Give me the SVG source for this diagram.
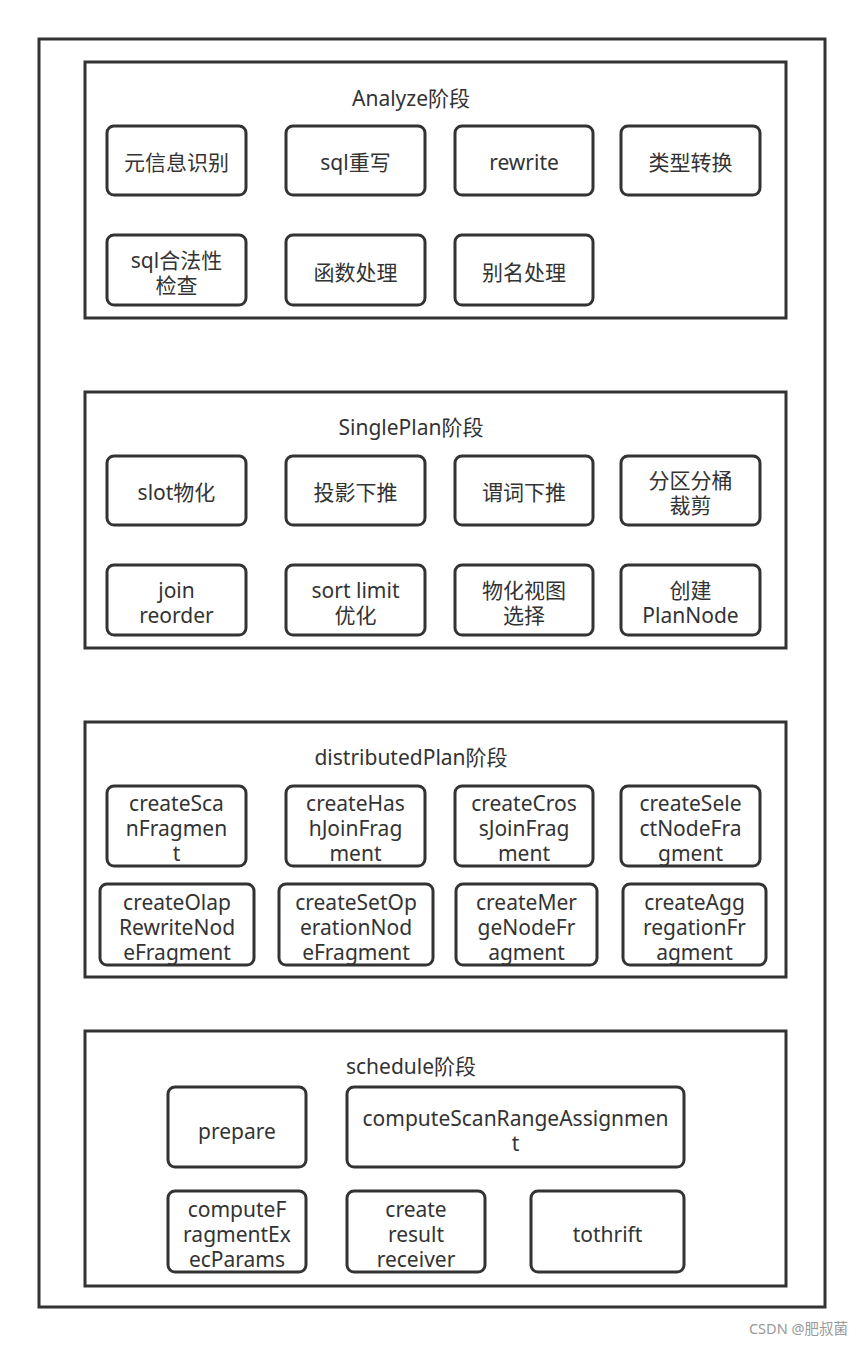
<svg xmlns="http://www.w3.org/2000/svg" width="864" height="1346" viewBox="0 0 864 1346">
<style>
.frame{fill:#fff;stroke:#333;stroke-width:3}
.sec{fill:#fff;stroke:#333;stroke-width:3}
.box{fill:#fff;stroke:#333;stroke-width:3}
text{font-family:"Noto Sans","Noto Sans CJK SC",sans-serif;font-size:21px;fill:#333;text-anchor:middle}
.wm{font-size:14.5px;fill:#999;text-anchor:end}
</style>
<rect width="864" height="1346" fill="#fff"/>
<rect class="frame" x="39" y="39" width="786" height="1268"/>
<g id="connectors"></g>

<g id="analyze">
<rect class="sec" x="85" y="62" width="701" height="256"/>
<text x="411" y="106">Analyze阶段</text>
</g>
<g id="a1"><rect class="box" x="107" y="126" width="139" height="69" rx="7"/><text x="176.5" y="170">元信息识别</text></g>
<g id="a2"><rect class="box" x="286" y="126" width="139" height="69" rx="7"/><text x="355.5" y="170">sql重写</text></g>
<g id="a3"><rect class="box" x="455" y="126" width="138" height="69" rx="7"/><text x="524" y="170">rewrite</text></g>
<g id="a4"><rect class="box" x="621" y="126" width="139" height="69" rx="7"/><text x="690.5" y="170">类型转换</text></g>
<g id="a5"><rect class="box" x="107" y="235" width="139" height="70" rx="7"/><text x="176.5" y="268">sql合法性</text><text x="176.5" y="293">检查</text></g>
<g id="a6"><rect class="box" x="286" y="235" width="139" height="70" rx="7"/><text x="355.5" y="280">函数处理</text></g>
<g id="a7"><rect class="box" x="455" y="235" width="138" height="70" rx="7"/><text x="524" y="280">别名处理</text></g>

<g id="singleplan">
<rect class="sec" x="85" y="392" width="701" height="256"/>
<text x="411" y="435">SinglePlan阶段</text>
</g>
<g id="s1"><rect class="box" x="107" y="456" width="139" height="69" rx="7"/><text x="176.5" y="500">slot物化</text></g>
<g id="s2"><rect class="box" x="286" y="456" width="139" height="69" rx="7"/><text x="355.5" y="500">投影下推</text></g>
<g id="s3"><rect class="box" x="455" y="456" width="138" height="69" rx="7"/><text x="524" y="500">谓词下推</text></g>
<g id="s4"><rect class="box" x="621" y="456" width="139" height="69" rx="7"/><text x="690.5" y="488">分区分桶</text><text x="690.5" y="513">裁剪</text></g>
<g id="s5"><rect class="box" x="107" y="565" width="139" height="70" rx="7"/><text x="176.5" y="598">join</text><text x="176.5" y="623">reorder</text></g>
<g id="s6"><rect class="box" x="286" y="565" width="139" height="70" rx="7"/><text x="355.5" y="598">sort limit</text><text x="355.5" y="623">优化</text></g>
<g id="s7"><rect class="box" x="455" y="565" width="138" height="70" rx="7"/><text x="524" y="598">物化视图</text><text x="524" y="623">选择</text></g>
<g id="s8"><rect class="box" x="621" y="565" width="139" height="70" rx="7"/><text x="690.5" y="598">创建</text><text x="690.5" y="623">PlanNode</text></g>

<g id="distributed">
<rect class="sec" x="85" y="722" width="701" height="255"/>
<text x="411" y="765">distributedPlan阶段</text>
</g>
<g id="d1"><rect class="box" x="107" y="786" width="139" height="80" rx="7"/><text x="176.5" y="811">createSca</text><text x="176.5" y="836">nFragmen</text><text x="176.5" y="861">t</text></g>
<g id="d2"><rect class="box" x="286" y="786" width="139" height="80" rx="7"/><text x="355.5" y="811">createHas</text><text x="355.5" y="836">hJoinFrag</text><text x="355.5" y="861">ment</text></g>
<g id="d3"><rect class="box" x="455" y="786" width="138" height="80" rx="7"/><text x="524" y="811">createCros</text><text x="524" y="836">sJoinFrag</text><text x="524" y="861">ment</text></g>
<g id="d4"><rect class="box" x="621" y="786" width="139" height="80" rx="7"/><text x="690.5" y="811">createSele</text><text x="690.5" y="836">ctNodeFra</text><text x="690.5" y="861">gment</text></g>
<g id="d5"><rect class="box" x="100" y="884" width="154" height="81" rx="7"/><text x="177" y="910">createOlap</text><text x="177" y="935">RewriteNod</text><text x="177" y="960">eFragment</text></g>
<g id="d6"><rect class="box" x="279" y="884" width="154" height="81" rx="7"/><text x="356" y="910">createSetOp</text><text x="356" y="935">erationNod</text><text x="356" y="960">eFragment</text></g>
<g id="d7"><rect class="box" x="456" y="884" width="141" height="81" rx="7"/><text x="526.5" y="910">createMer</text><text x="526.5" y="935">geNodeFr</text><text x="526.5" y="960">agment</text></g>
<g id="d8"><rect class="box" x="623" y="884" width="143" height="81" rx="7"/><text x="694.5" y="910">createAgg</text><text x="694.5" y="935">regationFr</text><text x="694.5" y="960">agment</text></g>

<g id="schedule">
<rect class="sec" x="85" y="1031" width="701" height="255"/>
<text x="411" y="1074">schedule阶段</text>
</g>
<g id="c1"><rect class="box" x="168" y="1087" width="138" height="80" rx="7"/><text x="237" y="1139">prepare</text></g>
<g id="c2"><rect class="box" x="347" y="1087" width="337" height="80" rx="7"/><text x="515.5" y="1126">computeScanRangeAssignmen</text><text x="515.5" y="1151">t</text></g>
<g id="c3"><rect class="box" x="168" y="1191" width="138" height="81" rx="7"/><text x="237" y="1217">computeF</text><text x="237" y="1242">ragmentEx</text><text x="237" y="1267">ecParams</text></g>
<g id="c4"><rect class="box" x="347" y="1191" width="138" height="81" rx="7"/><text x="416" y="1217">create</text><text x="416" y="1242">result</text><text x="416" y="1267">receiver</text></g>
<g id="c5"><rect class="box" x="531" y="1191" width="153" height="81" rx="7"/><text x="607.5" y="1242">tothrift</text></g>

<text class="wm" x="848" y="1334">CSDN @肥叔菌</text>
</svg>
